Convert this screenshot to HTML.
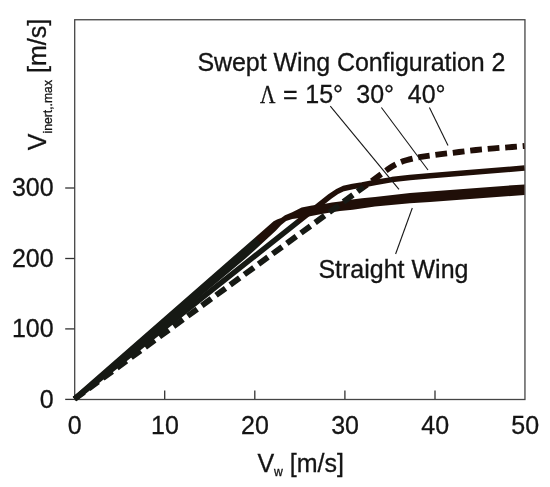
<!DOCTYPE html>
<html>
<head>
<meta charset="utf-8">
<title>Chart</title>
<style>
html,body{margin:0;padding:0;background:#fff;}
body{width:550px;height:487px;overflow:hidden;}
svg{display:block;}
text{font-family:"Liberation Sans",Arial,sans-serif;fill:#141414;stroke:#141414;stroke-width:0.3px;}
.t{font-size:25px;}
.s{font-size:12.2px;}
.sym{font-family:"Liberation Serif","Times New Roman",serif;}
</style>
</head>
<body>
<svg width="550" height="487" viewBox="0 0 550 487">
<rect x="0" y="0" width="550" height="487" fill="#ffffff"/>

<!-- frame -->
<g fill="none" stroke="#454545" stroke-width="1.3">
  <rect x="74.7" y="19.75" width="450.25" height="379.75"/>
</g>
<g stroke="#333" stroke-width="1.3">
  <line x1="65.2" y1="399.4" x2="74.5" y2="399.4"/>
  <line x1="65.2" y1="328.9" x2="74.5" y2="328.9"/>
  <line x1="65.2" y1="258.5" x2="74.5" y2="258.5"/>
  <line x1="65.2" y1="188" x2="74.5" y2="188"/>
  <line x1="164.7" y1="390.5" x2="164.7" y2="399"/>
  <line x1="254.8" y1="390.5" x2="254.8" y2="399"/>
  <line x1="344.9" y1="390.5" x2="344.9" y2="399"/>
  <line x1="435" y1="390.5" x2="435" y2="399"/>
</g>

<!-- curves -->
<defs>
  <linearGradient id="gAB" gradientUnits="userSpaceOnUse" x1="247" y1="248.2" x2="267" y2="230.8">
    <stop offset="0.5" stop-color="#161914"/><stop offset="0.5" stop-color="#200f08"/>
  </linearGradient>
  <linearGradient id="gC" gradientUnits="userSpaceOnUse" x1="288" y1="229.7" x2="308" y2="213.9">
    <stop offset="0.5" stop-color="#161914"/><stop offset="0.5" stop-color="#200f08"/>
  </linearGradient>
  <linearGradient id="gD" gradientUnits="userSpaceOnUse" x1="353.4" y1="194.5" x2="373.4" y2="179.9">
    <stop offset="0.5" stop-color="#161914"/><stop offset="0.5" stop-color="#200f08"/>
  </linearGradient>
</defs>
<g fill="none" stroke-linejoin="round" stroke-linecap="butt">
  <!-- straight wing + 15deg band -->
  <path d="M72.7,396.9 L273.6,221.3 L277,219.6 L281.1,218 L285,215.3 L292.2,212.2 L301.6,207.6 L312,205.6 L325.3,203.7 L332,202.6 L340,201.6 L348.1,199.9 L362,198.2 L375,196.9 L410,193 L430,191.4 L524.5,184.4 L524.5,195 L430,202 L410,203.3 L375,206.5 L352.7,209.7 L340,211 L332,212.2 L321.6,214 L310,216.2 L296,218.6 L292.2,219 L286.1,221.1 L281.1,225 L276,230.6 L254.9,249.9 L246,258 L76.3,401.1 Z" fill="url(#gAB)" stroke="none"/>
  <!-- 30deg -->
  <path d="M74.5,399 L330,196.4 Q337,190.9 343.5,188.5 L352.7,186.5 L362,185 L375,182.5 L392,179.6 L410,177.4 L430,175.8 L470,172.6 L524.5,168" stroke="url(#gC)" stroke-width="5.5"/>
  <!-- 40deg dashed -->
  <path d="M74.5,399 L388,169.2 Q396,163.3 406.2,160.3 Q414,158 421,156.9 L441,154.2 L459,152 L476,150 L494,148.4 L512,147 L524.5,146" stroke="url(#gD)" stroke-width="5.8" stroke-dasharray="11.75 5.8"/>
</g>

<!-- leader lines -->
<g stroke="#181818" stroke-width="1.1">
  <line x1="330.3" y1="106.1" x2="399" y2="189.4"/>
  <line x1="381.4" y1="107.5" x2="428" y2="170"/>
  <line x1="429.4" y1="107.5" x2="448" y2="145.4"/>
  <line x1="412.3" y1="208" x2="395.6" y2="254"/>
</g>

<!-- y tick labels -->
<g class="t" text-anchor="end">
  <text x="53.6" y="407.9">0</text>
  <text x="53.6" y="337.4">100</text>
  <text x="53.6" y="267">200</text>
  <text x="53.6" y="196.3">300</text>
</g>
<!-- x tick labels -->
<g class="t" text-anchor="middle">
  <text x="74.7" y="434">0</text>
  <text x="164.9" y="434">10</text>
  <text x="255" y="434">20</text>
  <text x="345.1" y="434">30</text>
  <text x="435.2" y="434">40</text>
  <text x="525.2" y="434">50</text>
</g>

<!-- annotations -->
<text class="t" x="197.4" y="70.7" textLength="308" lengthAdjust="spacing">Swept Wing Configuration 2</text>
<text class="t sym" transform="translate(259.9,103.3) scale(0.853,0.975)">Λ</text>
<text class="t" x="283" y="103.3">=</text>
<text class="t" x="305.3" y="103.3">15°</text>
<text class="t" x="356.3" y="103.3">30°</text>
<text class="t" x="407.8" y="103.3">40°</text>
<text class="t" x="318.4" y="277.5">Straight Wing</text>

<!-- x axis label -->
<text class="t" x="257.4" y="472.1">V<tspan class="s" dy="3.6">w</tspan><tspan dy="-3.6"> [m/s]</tspan></text>
<!-- y axis label -->
<text class="t" transform="translate(45.9,150.2) rotate(-90)">V<tspan class="s" dy="5.8">inert,.max</tspan><tspan dy="-5.8"> [m/s]</tspan></text>
</svg>
</body>
</html>
